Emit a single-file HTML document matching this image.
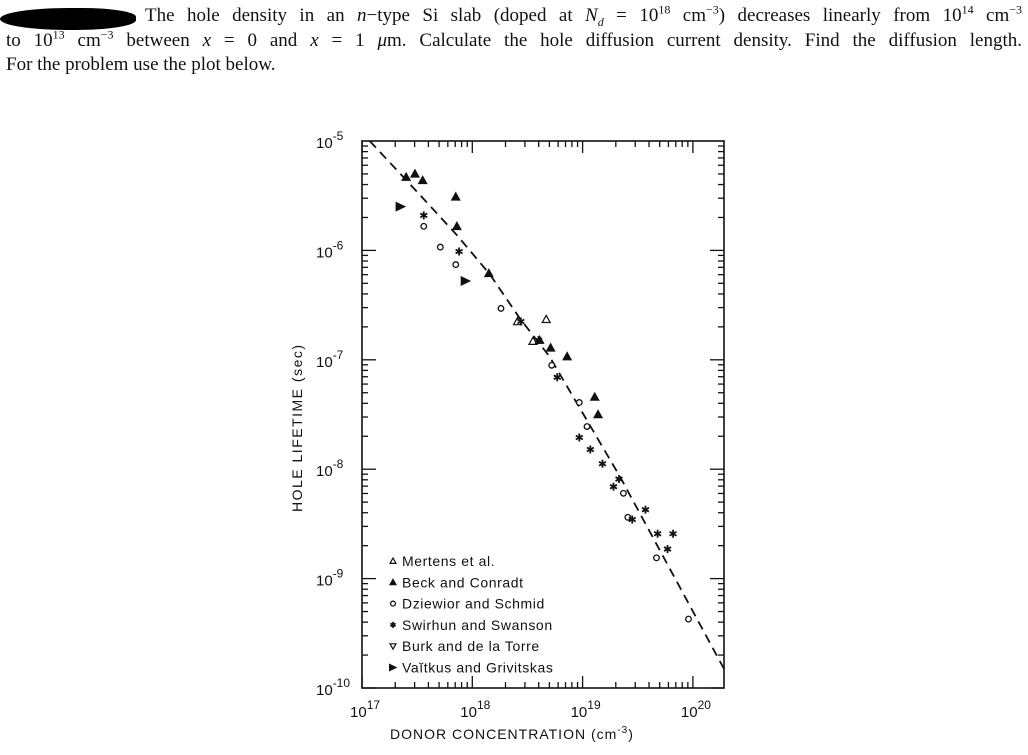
<!DOCTYPE html>
<html><head><meta charset="utf-8"><style>
body{margin:0;background:#fff;width:1028px;height:755px;overflow:hidden;position:relative;font-family:"Liberation Serif",serif;}
.ln{position:absolute;font-size:19px;color:#111;white-space:nowrap;text-align:justify;text-align-last:justify;}
sup{font-size:12px;line-height:0}
i{font-style:italic}
</style></head><body>
<div style="position:absolute;left:0;top:8px;width:136px;height:22px;background:#000;border-radius:50% 40% 45% 50%;"></div>
<div class="ln" style="left:145px;top:5px;width:877px;">The hole density in an <i>n</i>−type Si slab (doped at <i>N<sub style="font-size:12px;line-height:0">d</sub></i> = 10<sup>18</sup> cm<sup>−3</sup>) decreases linearly from 10<sup>14</sup> cm<sup>−3</sup></div>
<div class="ln" style="left:6px;top:30px;width:1016px;">to 10<sup>13</sup> cm<sup>−3</sup> between <i>x</i> = 0 and <i>x</i> = 1 <i>μ</i>m. Calculate the hole diffusion current density. Find the diffusion length.</div>
<div class="ln" style="left:6px;top:54px;text-align:left;text-align-last:auto;">For the problem use the plot below.</div>
<svg id="chart" width="1028" height="755" style="position:absolute;left:0;top:0" font-family="Liberation Sans, sans-serif"></svg>
<script>
// data in log10 units
const xTicks=[17,18,19,20];
const yTicks=[-5,-6,-7,-8,-9,-10];
const fitX=[17.07,17.44,17.86,18.16,18.43,18.70,19.34,20.29];
const fitY=[-5.00,-5.40,-5.86,-6.22,-6.62,-6.97,-8.07,-9.84];
const mertensX=[18.67,18.55,18.41];
const mertensY=[-6.63,-6.83,-6.65];
const beckX=[17.40,17.48,17.55,17.85,17.86,18.15,18.61,18.71,18.86,19.11,19.14];
const beckY=[-5.33,-5.30,-5.36,-5.51,-5.78,-6.21,-6.82,-6.89,-6.97,-7.34,-7.50];
const dzX=[17.56,17.71,17.85,18.26,18.72,18.97,19.04,19.37,19.41,19.67,19.96];
const dzY=[-5.78,-5.97,-6.13,-6.53,-7.05,-7.39,-7.61,-8.22,-8.44,-8.81,-9.37];
const swX=[17.56,17.88,18.44,18.60,18.77,18.97,19.07,19.18,19.33,19.28,19.45,19.57,19.68,19.82,19.77];
const swY=[-5.68,-6.01,-6.65,-6.82,-7.16,-7.71,-7.82,-7.95,-8.09,-8.16,-8.46,-8.37,-8.59,-8.59,-8.73];
const vaX=[17.35,17.94];
const vaY=[-5.60,-6.28];
const legendLabels=["Mertens et al.","Beck and Conradt","Dziewior and Schmid","Swirhun and Swanson","Burk and de la Torre","Vaĭtkus and Grivitskas"];

const svg=document.getElementById('chart');
const NS='http://www.w3.org/2000/svg';
const L=362,R=724,T=141,B=688;
const sx=v=>362+(v-17)*110.3;
const sy=v=>141+(-5-v)*109.4;
function mk(tag,attrs,parent){const e=document.createElementNS(NS,tag);for(const k in attrs)e.setAttribute(k,attrs[k]);(parent||svg).appendChild(e);return e;}
const frame=mk('rect',{x:L,y:T,width:R-L,height:B-T,fill:'none',stroke:'#111','stroke-width':1.6});


for(let d=17;d<=20;d++){for(let m=1;m<10;m++){const v=d+Math.log10(m);const x=sx(v);if(x>R)continue;const len=m==1?12:6;
mk('line',{x1:x,y1:B,x2:x,y2:B-len,stroke:'#111','stroke-width':1.3});mk('line',{x1:x,y1:T,x2:x,y2:T+len,stroke:'#111','stroke-width':1.3});}}
for(let d=-10;d<-5;d++){for(let m=1;m<10;m++){const v=d+Math.log10(m);const y=sy(v);const len=m==1?14:6;
mk('line',{x1:L,y1:y,x2:L+len,y2:y,stroke:'#111','stroke-width':1.3});mk('line',{x1:R,y1:y,x2:R-len,y2:y,stroke:'#111','stroke-width':1.3});}}
xTicks.forEach(t=>{const g=mk('text',{x:sx(t)-12,y:717,'font-size':15,fill:'#111'});g.textContent='10';const s=mk('tspan',{dy:-8,'font-size':12},g);s.textContent=String(t);

});
yTicks.forEach(t=>{const g=mk('text',{x:316,y:sy(t)+7,'font-size':15,fill:'#111'});g.textContent='10';const s=mk('tspan',{dy:-8,'font-size':12},g);s.textContent=String(t);

});
const xt=mk('text',{x:390,y:739,'font-size':14,fill:'#111','letter-spacing':'1'});xt.innerHTML='DONOR CONCENTRATION  (cm<tspan dy="-6" font-size="10">-3</tspan><tspan dy="6">)</tspan>';


const yt=mk('text',{x:0,y:0,'font-size':14,fill:'#111','letter-spacing':'1.5',transform:'translate(302,512) rotate(-90)'});yt.textContent='HOLE LIFETIME  (sec)';


const fl=mk('polyline',{points:fitX.map((v,i)=>sx(v)+','+sy(fitY[i])).join(' '),fill:'none',stroke:'#111','stroke-width':1.8,'stroke-dasharray':'9,6'});


function marker(kind,x,y,s){
 if(kind==='tri-open'||kind==='tri')return mk('path',{d:`M${x},${y-s} L${x+s},${y+s*0.8} L${x-s},${y+s*0.8}Z`,fill:kind==='tri'?'#111':'#fff',stroke:'#111','stroke-width':1.2});
 if(kind==='tri-down')return mk('path',{d:`M${x},${y+s} L${x+s},${y-s*0.8} L${x-s},${y-s*0.8}Z`,fill:'#fff',stroke:'#111','stroke-width':1.2});
 if(kind==='circ')return mk('circle',{cx:x,cy:y,r:s*0.8,fill:'#fff',stroke:'#111','stroke-width':1.3});
 if(kind==='right')return mk('path',{d:`M${x-s},${y-s} L${x+s*1.1},${y} L${x-s},${y+s}Z`,fill:'#111'});
 if(kind==='star'){const g=mk('g',{stroke:'#111','stroke-width':1.8});for(let a=0;a<3;a++){const an=a*Math.PI/3+Math.PI/2;mk('line',{x1:x-s*Math.cos(an),y1:y-s*Math.sin(an),x2:x+s*Math.cos(an),y2:y+s*Math.sin(an)},g);}return g;}
}
function series(xs,ys,kind,name,s){xs.forEach((v,i)=>{const m=marker(kind,sx(v),sy(ys[i]),s);

});}
series(mertensX,mertensY,'tri-open','mertens-point',4);
series(beckX,beckY,'tri','beck-point',4);
series(dzX,dzY,'circ','dziewior-point',3.5);
series(swX,swY,'star','swirhun-point',4);
series(vaX,vaY,'right','vaitkus-point',5);
const kinds=['tri-open','tri','circ','star','tri-down','right'];
legendLabels.forEach((lab,i)=>{const y=561+i*21.3;marker(kinds[i],393,y,kinds[i]==='right'?4:3);
const t=mk('text',{x:402,y:y+5,'font-size':14,fill:'#111','letter-spacing':'0.6'});t.textContent=lab;

});
</script>
</body></html>
